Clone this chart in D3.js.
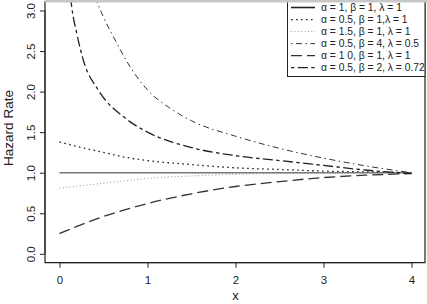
<!DOCTYPE html>
<html>
<head>
<meta charset="utf-8">
<script src="https://cdn.jsdelivr.net/npm/d3@7"></script>
<style>
  body { margin: 0; background: #fff; }
  svg { display: block; font-family: "Liberation Sans", Arial, sans-serif; }
</style>
</head>
<body>
<div id="chart"></div>
<script>
var width = 427,
    height = 304;

// hazard rate curves
var xs1 = [0, 1, 2, 3, 4];
var h1 = [1, 1, 1, 1, 1];

var xs2 = [0, 0.25, 0.5, 0.75, 1, 1.5, 2, 2.5, 3, 3.5, 4];
var h2 = [1.38, 1.31, 1.25, 1.19, 1.15, 1.10, 1.06, 1.04, 1.02, 1.01, 1.0];

var xs3 = [0, 0.25, 0.5, 0.75, 1, 1.5, 2, 2.5, 3, 3.5, 4];
var h3 = [0.81, 0.84, 0.87, 0.90, 0.93, 0.96, 0.98, 0.99, 0.995, 1.0, 1.0];

var xs4 = [0.35, 0.42, 0.5, 0.65, 0.75, 1, 1.25, 1.5, 2, 2.5, 3, 3.5, 4];
var h4 = [3.4, 3.13, 2.92, 2.6, 2.4, 2.02, 1.8, 1.64, 1.45, 1.3, 1.18, 1.08, 1.0];

var xs5 = [0, 0.25, 0.5, 0.75, 1, 1.5, 2, 2.5, 3, 3.5, 4];
var h5 = [0.25, 0.36, 0.46, 0.545, 0.62, 0.74, 0.83, 0.89, 0.94, 0.97, 0.99];

var xs6 = [0.1, 0.13, 0.2, 0.27, 0.44, 0.75, 1, 1.5, 2, 2.5, 3, 3.5, 4];
var h6 = [3.5, 3.13, 2.7, 2.39, 2.02, 1.67, 1.5, 1.31, 1.21, 1.15, 1.09, 1.03, 0.99];

var legendLabels = [
    "\u03b1 = 1, \u03b2 = 1, \u03bb = 1",
    "\u03b1 = 0.5, \u03b2 = 1,\u03bb = 1",
    "\u03b1 = 1.5, \u03b2 = 1, \u03bb = 1",
    "\u03b1 = 0.5, \u03b2 = 4, \u03bb = 0.5",
    "\u03b1 = 1 0, \u03b2 = 1, \u03bb = 1",
    "\u03b1 = 0.5, \u03b2 = 2, \u03bb = 0.72"
];

var xTicks = [0, 1, 2, 3, 4];
var yTicks = [0, 0.5, 1, 1.5, 2, 2.5, 3];

var styles = [
    {stroke: "#777", width: 1.6, dash: null},
    {stroke: "#222", width: 1.3, dash: "1.6,3.4"},
    {stroke: "#999", width: 1, dash: "1,2.4"},
    {stroke: "#333", width: 1, dash: "1.5,3.5,6,3.5"},
    {stroke: "#333", width: 1.3, dash: "11,5"},
    {stroke: "#222", width: 1.3, dash: "3.4,3.4,10,3.4"}
];

var series = [
    {x: xs1, y: h1},
    {x: xs2, y: h2},
    {x: xs3, y: h3},
    {x: xs4, y: h4},
    {x: xs5, y: h5},
    {x: xs6, y: h6}
];

var box = {left: 45, right: 425, top: 0, bottom: 262.7};

var x = d3.scaleLinear().domain([0, 4]).range([59.5, 411.5]);
var y = d3.scaleLinear().domain([0, 3]).range([253.8, 10.5]);

var svg = d3.select("#chart").append("svg")
    .attr("width", width)
    .attr("height", height);

var defs = svg.append("defs");
defs.append("clipPath").attr("id", "plotclip")
    .append("rect")
    .attr("x", box.left).attr("y", box.top)
    .attr("width", box.right - box.left)
    .attr("height", box.bottom - box.top);

var line = d3.line()
    .x(function(d) { return x(d[0]); })
    .y(function(d) { return y(d[1]); })
    .curve(d3.curveMonotoneX);

var plot = svg.append("g").attr("clip-path", "url(#plotclip)");

series.forEach(function(s, i) {
    var pts = s.x.map(function(v, j) { return [v, s.y[j]]; });
    plot.append("path")
        .attr("d", line(pts))
        .attr("fill", "none")
        .attr("stroke", styles[i].stroke)
        .attr("stroke-width", styles[i].width)
        .attr("stroke-dasharray", styles[i].dash);
});

// plot frame
svg.append("path")
    .attr("d", "M" + box.left + "," + (box.top + 1) + "V" + box.bottom + "H" + box.right + "V" + (box.top + 1))
    .attr("fill", "none")
    .attr("stroke", "#222")
    .attr("stroke-width", 1.2);

// axes
var xAxis = svg.append("g")
    .attr("transform", "translate(0," + box.bottom + ")")
    .call(d3.axisBottom(x).tickValues(xTicks).tickSize(5).tickFormat(d3.format("d")));
xAxis.select(".domain").attr("d", "M" + x(0) + ",0H" + x(4)).attr("stroke", "#222");
xAxis.selectAll(".tick line").attr("stroke", "#222");
xAxis.selectAll(".tick text")
    .attr("y", 13)
    .attr("font-size", "11.5px")
    .attr("fill", "#222")
    .attr("font-family", "Liberation Sans, Arial, sans-serif");

var yAxis = svg.append("g")
    .attr("transform", "translate(" + box.left + ",0)")
    .call(d3.axisLeft(y).tickValues(yTicks).tickSize(5).tickFormat(d3.format(".1f")));
yAxis.select(".domain").attr("d", "M0," + y(0) + "V" + y(3)).attr("stroke", "#222");
yAxis.selectAll(".tick line").attr("stroke", "#222");
yAxis.selectAll(".tick text")
    .attr("x", null).attr("dy", null)
    .attr("transform", "translate(-10.5,0) rotate(-90)")
    .attr("text-anchor", "middle")
    .attr("font-size", "11.5px")
    .attr("fill", "#222")
    .attr("font-family", "Liberation Sans, Arial, sans-serif");

svg.append("text")
    .attr("transform", "translate(13,128) rotate(-90)")
    .attr("text-anchor", "middle")
    .attr("font-size", "13.5px")
    .attr("fill", "#222")
    .text("Hazard Rate");

svg.append("text")
    .attr("x", (x(0) + x(4)) / 2)
    .attr("y", 300)
    .attr("text-anchor", "middle")
    .attr("font-size", "13px")
    .attr("fill", "#222")
    .text("x");

// legend
var legend = svg.append("g");
legend.append("rect")
    .attr("x", 287.5).attr("y", -5)
    .attr("width", 137.5).attr("height", 81.5)
    .attr("fill", "#fff")
    .attr("stroke", "#222")
    .attr("stroke-width", 1);

var ly = d3.scalePoint().domain(d3.range(legendLabels.length)).range([7.5, 67.7]);

legendLabels.forEach(function(lab, i) {
    legend.append("line")
        .attr("x1", 291).attr("x2", 315)
        .attr("y1", ly(i)).attr("y2", ly(i))
        .attr("stroke", styles[i].stroke === "#777" ? "#222" : styles[i].stroke)
        .attr("stroke-width", styles[i].width)
        .attr("stroke-dasharray", styles[i].dash);
    legend.append("text")
        .attr("x", 321)
        .attr("y", ly(i) + 3.7)
        .attr("font-size", "10.3px")
        .attr("fill", "#222")
        .text(lab);
});
// light band along the top edge
svg.append("rect")
    .attr("x", box.left).attr("y", 0)
    .attr("width", width - box.left).attr("height", 2.5)
    .attr("fill", "#c8c8c8");
</script>
</body>
</html>
